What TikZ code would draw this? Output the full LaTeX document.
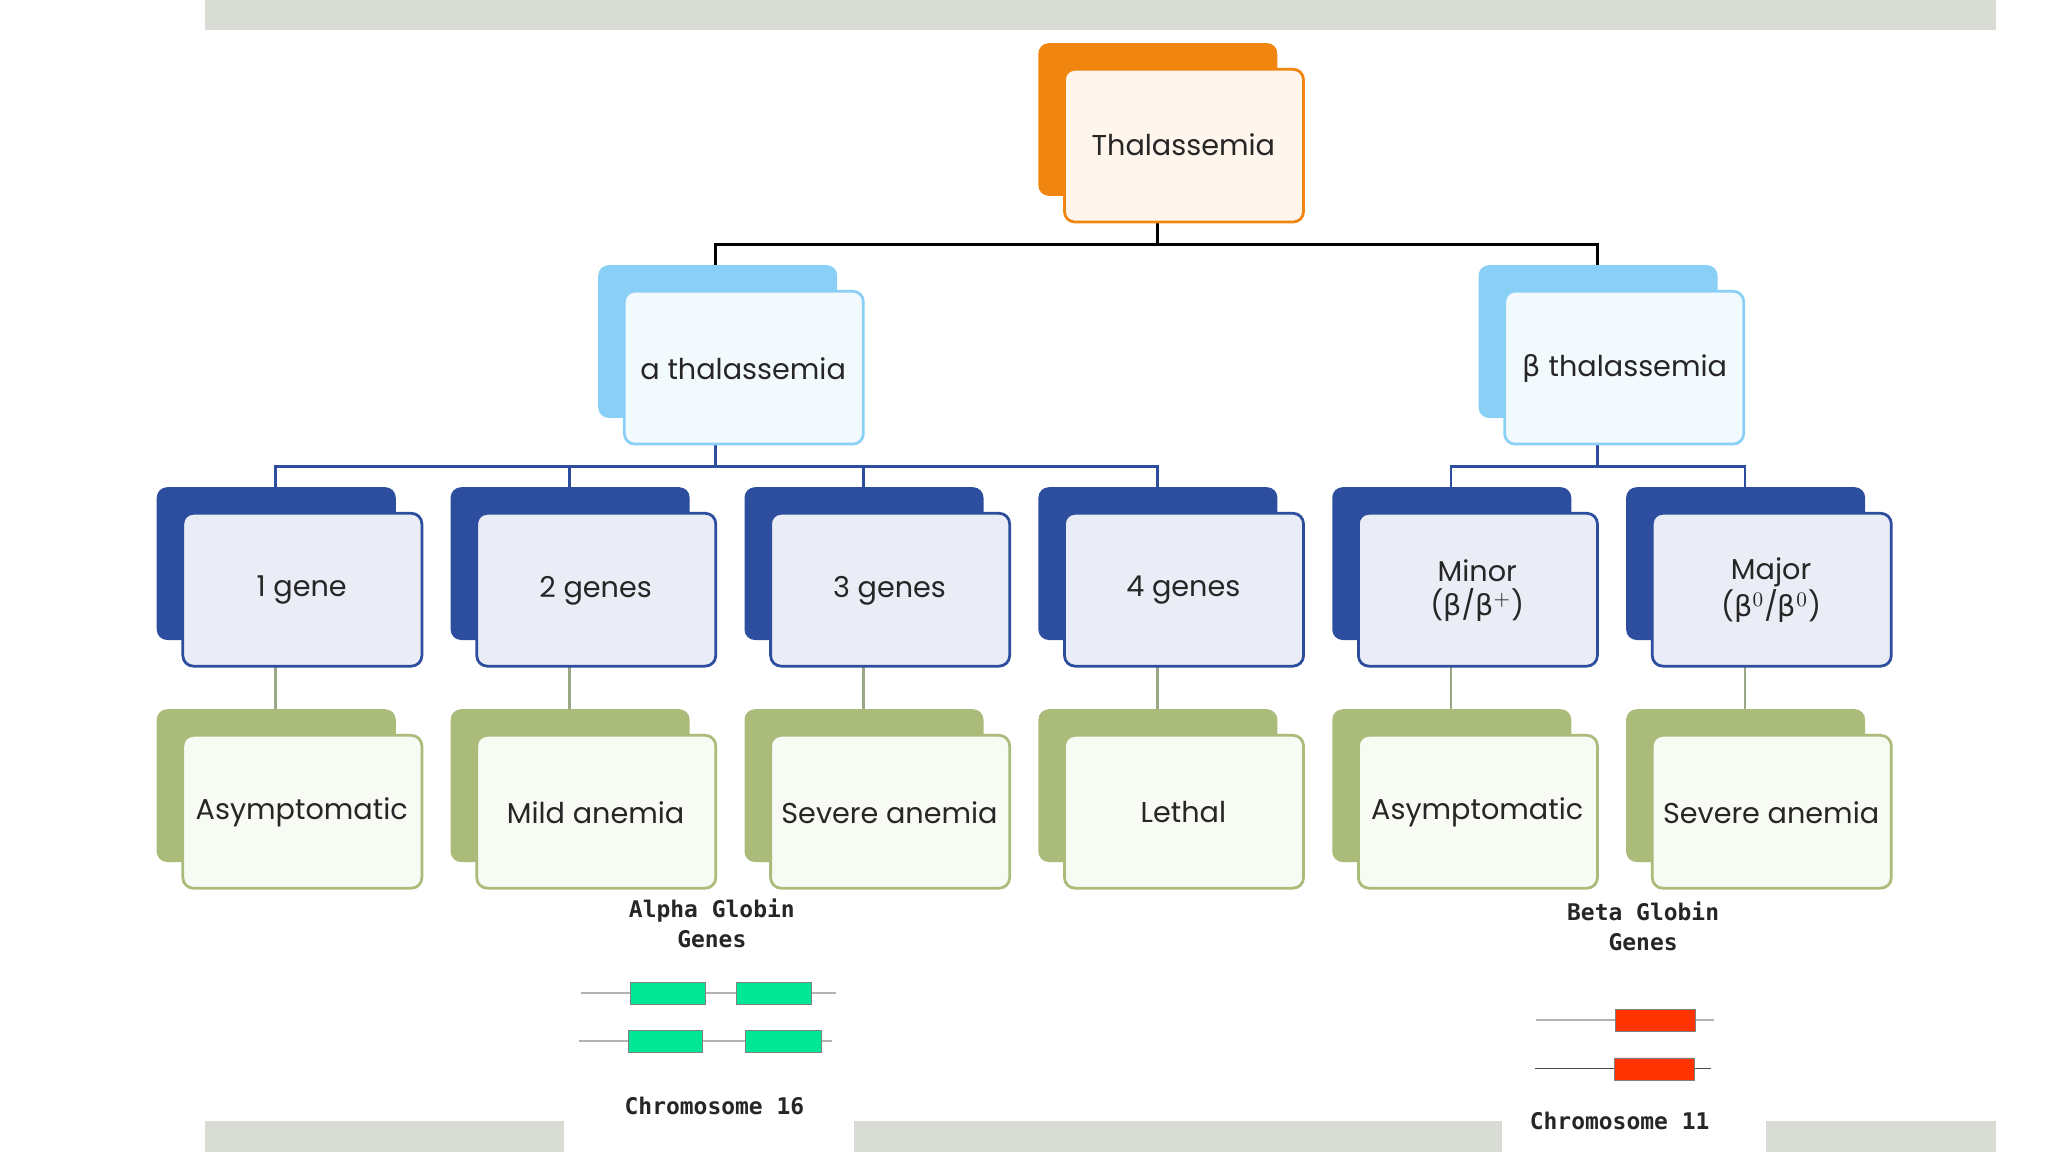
\documentclass[tikz,border=0pt]{standalone}
\usepackage{fontspec}
\setmainfont{Poppins}
\newfontfamily\djv{DejaVu Sans}
\newfontfamily\blk{DejaVu Sans Mono}
\begin{document}
\begin{tikzpicture}[x=0.02cm,y=-0.02cm,
 back/.style={rounded corners=0.16cm,draw=none},
 front/.style={rounded corners=0.16cm,line width=1.2pt},
 lbl/.style={font=\fontsize{12.5}{15}\selectfont,align=center,text=black!85},
 gl/.style={font=\blk\bfseries\fontsize{10}{13}\selectfont,align=center,text=black!85}]
\definecolor{gbar}{HTML}{D9DBD5}
\definecolor{org}{HTML}{F0850F}
\definecolor{lb}{HTML}{8ACFF6}
\definecolor{lbl}{HTML}{7EC3EA}
\definecolor{db}{HTML}{2D4D9E}
\definecolor{gr}{HTML}{AABB7A}
\definecolor{grl}{HTML}{9AA885}
\definecolor{gn}{HTML}{00E896}
\definecolor{rd}{HTML}{FF3300}
\useasboundingbox (0,0) rectangle (1568,882);
\fill[gbar] (157,0) rectangle (1528,23);
\fill[gbar] (157,858) rectangle (432,882);
\fill[gbar] (654,858) rectangle (1150,882);
\fill[gbar] (1352,858) rectangle (1528,882);
% connectors
\draw[lbl,line width=1.2pt] (886,170) -- (886,187) coordinate (c0);
\draw[lbl,line width=1.2pt] (548,203) |- (c0) -| (1223,203);
\draw[db,line width=1.2pt] (548,340) -- (548,357) coordinate (c1);
\draw[db,line width=1.2pt] (211,373) |- (c1) -| (886,373);
\draw[db,line width=1.2pt] (436,373) -- (436,357) (661,373) -- (661,357);
\draw[db,line width=1.2pt] (1223,340) -- (1223,357) coordinate (c2);
\draw[db,line width=1.2pt] (1111,373) |- (c2) -| (1336,373);
\foreach \x in {211,436,661,886,1111,1336}{\draw[grl,line width=1.2pt] (\x,510) -- (\x,543);}
% Thalassemia
\fill[back,org] (795,33) rectangle (978,150);
\draw[front,draw=org,fill=org!8] (815,53) rectangle (998,170);
\node[lbl] (t) at (906,111) {Thalassemia};
% alpha / beta
\fill[back,lb] (458,203) rectangle (641,320);
\draw[front,draw=lb,fill=lb!10] (478,223) rectangle (661,340);
\node[lbl] (a) at (569,282) {a thalassemia};
\fill[back,lb] (1132,203) rectangle (1315,320);
\draw[front,draw=lb,fill=lb!10] (1152,223) rectangle (1335,340);
\node[lbl] (b) at (1244,282) {{\djv β} thalassemia};
% level 3 and 4
\foreach \x/\t/\u in {120/1 gene/Asymptomatic,345/2 genes/Mild anemia,570/3 genes/Severe anemia,795/4 genes/Lethal,1020/{Minor\\({\djv β}/{\djv β}$^{+}$)}/Asymptomatic,1245/{Major\\({\djv β}$^{0}$/{\djv β}$^{0}$)}/Severe anemia}{
 \fill[back,db] (\x,373) rectangle ++(183,117);
 \draw[front,draw=db,fill=db!10] (\x+20,393) rectangle ++(183,117);
 \node[lbl] at (\x+111,452) {\t};
 \fill[back,gr] (\x,543) rectangle ++(183,117);
 \draw[front,draw=gr,fill=gr!8] (\x+20,563) rectangle ++(183,117);
 \node[lbl] at (\x+111,622) {\u};
}
% genes
\node[gl] (ag) at (545,707) {Alpha Globin\\Genes};
\node[gl] (bg) at (1258,709) {Beta Globin\\Genes};
\node[gl] (c16) at (547,847) {Chromosome 16};
\node[gl] (c11) at (1240,858) {Chromosome 11};
\draw[gray!60,line width=0.8pt] (445,760) -- (640,760) (443,797) -- (637,797);
\draw[gn,fill=gn,draw=gray] (483,752) rectangle (540,769) (564,752) rectangle (621,769) (481,789) rectangle (538,806) (571,789) rectangle (629,806);
\draw[gray!60,line width=0.8pt] (1176,781) -- (1312,781);
\draw[black!70,line width=0.8pt] (1175,818) -- (1310,818);
\draw[fill=rd,draw=gray] (1237,773) rectangle (1298,790) (1236,810) rectangle (1297,827);
\end{tikzpicture}
\end{document}
